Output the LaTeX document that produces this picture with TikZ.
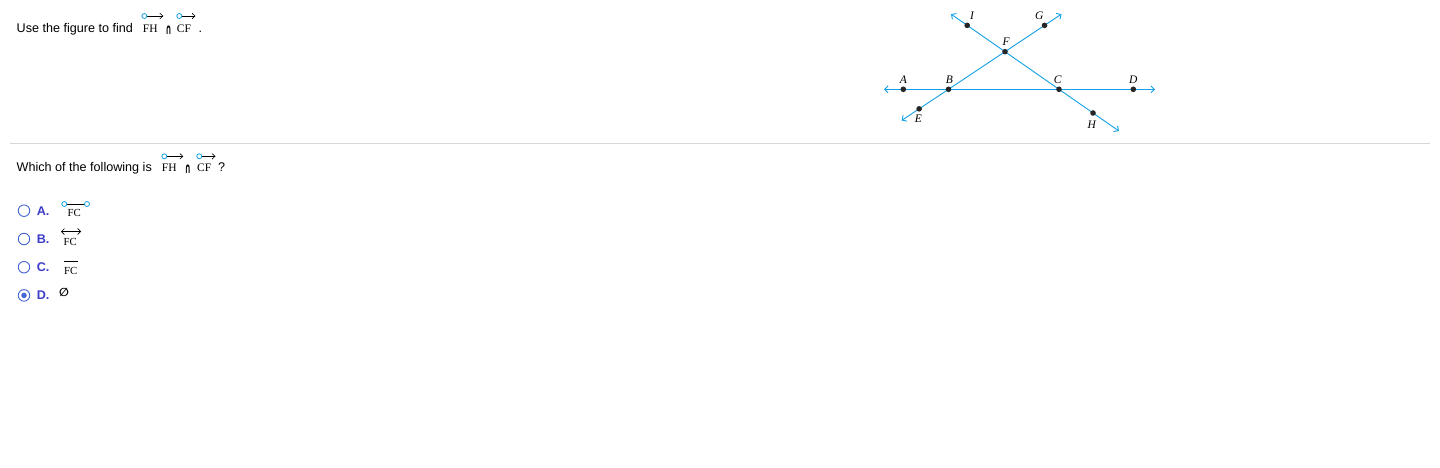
\documentclass[tikz,border=0pt]{standalone}
\usepackage{fontspec}
\usepackage{graphicx}
\setmainfont{Liberation Sans}
\newfontfamily\serifont{Liberation Serif}
\newfontfamily\djv{DejaVu Sans}
\usetikzlibrary{arrows.meta,calc}
\definecolor{cyanl}{RGB}{20,160,230}
\definecolor{optblue}{RGB}{60,60,200}
\definecolor{radioblue}{RGB}{70,100,215}
\definecolor{rulegray}{RGB}{215,215,215}
\newcommand\rayabove[4]{% name, x0, x1, y
  \coordinate (#1a) at (#2,#4);
  \coordinate (#1b) at (#3,#4);
  \draw[rayl] ($(#1a)+(2.5,0)$) -- (#1b);
  \draw[rayc] (#1a) circle (2.5pt);}
\begin{document}
\begin{tikzpicture}[x=1pt,y=-1pt,
  txt/.style={anchor=base west, inner sep=0pt, font=\fontsize{12.6}{15}\selectfont},
  capsym/.style={anchor=south west, inner sep=0pt},
  sertxt/.style={anchor=base west, inner sep=0pt, font=\serifont\fontsize{11.5}{13}\selectfont},
  fctxt/.style={anchor=base west, inner sep=0pt, font=\serifont\fontsize{10.8}{12}\selectfont},
  ptlabel/.style={inner sep=0pt, font=\serifont\itshape\fontsize{11.5}{12}\selectfont},
  geoline/.style={cyanl, line width=0.9pt, {Straight Barb[length=3.5pt,width=7pt]}-{Straight Barb[length=3.5pt,width=7pt]}},
  dot/.style={circle, fill=black!85, inner sep=0pt, minimum size=5.6pt},
  rayc/.style={cyanl, line width=0.8pt},
  rayl/.style={black, line width=0.6pt, -{Straight Barb[length=3pt,width=5.5pt]}},
  radio/.style={circle, draw=radioblue, line width=0.9pt, inner sep=0pt, minimum size=11.5pt},
  optlbl/.style={anchor=base west, inner sep=0pt, text=optblue, font=\bfseries\fontsize{12.6}{15}\selectfont},
  seg/.style={black, line width=0.6pt}
]
\useasboundingbox (0,0) rectangle (1440,468);

% ---------- question 1 ----------
\node[txt] (q1) at (16.5,32.7) {Use the figure to find};
\node[sertxt] (q1fh) at (142.7,32.7) {FH};
\node[capsym] (q1cap) at (165.4,34.3) {\resizebox{6pt}{8.5pt}{\djv\bfseries ∩}};
\node[sertxt] (q1cf) at (176.7,32.7) {CF};
\node[txt] (q1dot) at (198.3,32.7) {.};
\rayabove{r1}{144.3}{163.3}{16}
\rayabove{r2}{179.3}{195.5}{16}

% ---------- figure ----------
\coordinate (F) at (1005,51.7);
\coordinate (B0) at (948.5,89.3);
\coordinate (C0) at (1059,89.3);
\coordinate (A0) at (903.3,89.3);
\coordinate (D0) at (1133.3,89.3);
\coordinate (E0) at ($(B0)!-0.52!(F)$);
\coordinate (G0) at ($(B0)!1.7!(F)$);
\coordinate (I0) at ($(F)!-0.7!(C0)$);
\coordinate (H0) at ($(F)!1.63!(C0)$);
\coordinate (ADl) at (884,89.3);
\coordinate (ADr) at (1155,89.3);
\coordinate (EGl) at ($(B0)!-0.83!(F)$);
\coordinate (EGr) at ($(B0)!2!(F)$);
\coordinate (IHl) at ($(F)!-1!(C0)$);
\coordinate (IHr) at ($(F)!2.11!(C0)$);
\draw[geoline] (ADl) -- (ADr);
\draw[geoline] (EGl) -- (EGr);
\draw[geoline] (IHl) -- (IHr);
\foreach \p in {A0,B0,C0,D0,E0,F,G0,H0,I0} \node[dot] (d\p) at (\p) {};
\node[ptlabel] (lA) at (903.3,80) {A};
\node[ptlabel] (lB) at (949.3,80) {B};
\node[ptlabel] (lC) at (1057.7,80) {C};
\node[ptlabel] (lD) at (1133.3,80) {D};
\node[ptlabel] (lF) at (1006,42) {F};
\node[ptlabel] (lI) at (972,15.5) {I};
\node[ptlabel] (lG) at (1039.3,15.5) {G};
\node[ptlabel] (lE) at (918.3,118.5) {E};
\node[ptlabel] (lH) at (1091.7,125) {H};

% ---------- divider ----------
\coordinate (rl) at (10,143.5);
\coordinate (rr) at (1430,143.5);
\draw[rulegray, line width=0.8pt] (rl) -- (rr);

% ---------- question 2 ----------
\node[txt] (q2) at (16.5,171.7) {Which of the following is};
\node[sertxt] (q2fh) at (161.7,171.7) {FH};
\node[capsym] (q2cap) at (184.6,173.3) {\resizebox{6pt}{8.5pt}{\djv\bfseries ∩}};
\node[sertxt] (q2cf) at (197,171.7) {CF};
\node[txt] (q2q) at (217.8,171.7) {?};
\rayabove{r3}{164.3}{183.3}{156.3}
\rayabove{r4}{199.3}{215.5}{156.3}

% ---------- options ----------
\node[radio] (ra) at (24,210.7) {};
\node[radio] (rb) at (24,239) {};
\node[radio] (rc) at (24,267.2) {};
\node[radio] (rd) at (24,295.4) {};
\node[circle, fill=radioblue, inner sep=0pt, minimum size=5.5pt] (rdin) at (rd.center) {};

\node[optlbl] (la) at (36.7,215.2) {A.};
\node[optlbl] (lb) at (36.7,243.5) {B.};
\node[optlbl] (lc) at (36.7,271.7) {C.};
\node[optlbl] (ld) at (36.7,299.9) {D.};

% A: segment with open endpoints
\node[fctxt] (fca) at (67.5,216.5) {FC};
\coordinate (sa1) at (64.3,204);
\coordinate (sa2) at (87,204);
\draw[seg] ($(sa1)+(2.5,0)$) -- ($(sa2)+(-2.5,0)$);
\draw[rayc] (sa1) circle (2.5pt);
\draw[rayc] (sa2) circle (2.5pt);

% B: line
\node[fctxt] (fcb) at (63.5,245) {FC};
\coordinate (sb1) at (61,231.5);
\coordinate (sb2) at (81,231.5);
\draw[seg, {Straight Barb[length=3pt,width=6pt]}-{Straight Barb[length=3pt,width=6pt]}] (sb1) -- (sb2);

% C: segment
\node[fctxt] (fcc) at (64,274.5) {FC};
\coordinate (sc1) at (64,261);
\coordinate (sc2) at (77.5,261);
\draw[seg] (sc1) -- (sc2);

% D: empty set
\node[inner sep=0pt, font=\djv\bfseries\fontsize{11.5}{13}\selectfont] (emp) at (64,292) {∅};
\end{tikzpicture}
\end{document}
